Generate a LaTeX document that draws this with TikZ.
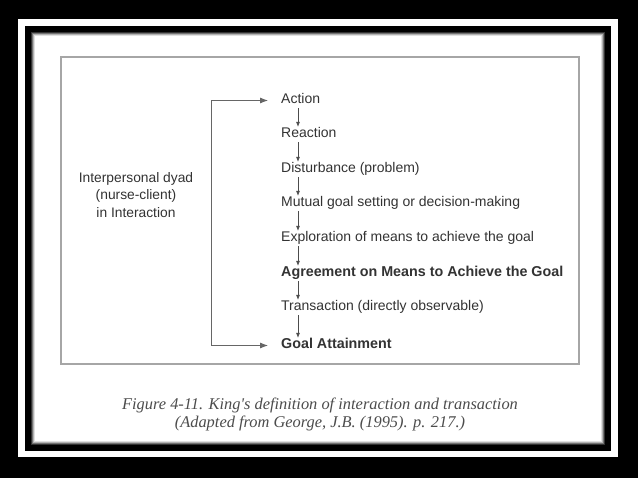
\documentclass[tikz,border=0pt]{standalone}
\usepackage{fontspec}
\setsansfont{Liberation Sans}
\newfontfamily\capfont{Liberation Serif}
\usetikzlibrary{arrows.meta,positioning}

\tikzset{
  step text/.style={anchor=west, inner sep=1pt, text height=10pt, text depth=3pt,
    font=\sffamily\fontsize{14}{16}\selectfont, text=black!80},
  key step/.style={step text, font=\sffamily\bfseries\fontsize{14.3}{16}\selectfont},
  flow/.style={draw=black!70, line width=0.6pt, -{Latex[length=5pt,width=4pt]}},
  loop/.style={draw=black!60, line width=0.8pt, {Latex[length=8pt,width=6pt]}-{Latex[length=8pt,width=6pt]}}
}

\begin{document}
\begin{tikzpicture}[x=1pt,y=-1pt]
    \useasboundingbox (0,0) rectangle (638,478);

    % Draw the black frame
    \fill[black] (0,0) rectangle (638,478);
    \fill[white] (18,19) rectangle (618,457);
    \fill[black] (25,26) rectangle (611,451);
    \foreach \i/\c in {0/black!80, 1/black!55, 2/black!30, 3/black!12} {
        \fill[\c] (31+\i,32+\i) rectangle (605-\i,445-\i);
    }
    \fill[white] (35,36) rectangle (601,441);

    % Draw the inner box
    \draw[black!35, line width=1.2pt] (61,57) rectangle (579,364);

    % Draw the steps
    \node[step text] (action) at (280,100.5) {Action};
    \node[step text] (reaction) at (280,134.5) {Reaction};
    \node[step text] (disturb) at (280,169.5) {Disturbance (problem)};
    \node[step text] (mutual) at (280,203.5) {Mutual goal setting or decision-making};
    \node[step text] (explore) at (280,238.5) {Exploration of means to achieve the goal};
    \node[key step] (agree) at (280,273.5) {Agreement on Means to Achieve the Goal};
    \node[step text] (trans) at (280,307.5) {Transaction (directly observable)};
    \node[key step] (goal) at (280,345.5) {Goal Attainment};

    % Draw the arrows between the steps
    \foreach \a/\b in {action/reaction, reaction/disturb, disturb/mutual, mutual/explore,
                       explore/agree, agree/trans, trans/goal} {
        \draw[flow] ([xshift=18pt]\a.south west) -- ([xshift=18pt]\b.north west);
    }

    % Draw the interaction loop
    \coordinate (left) at (211,100);
    \draw[loop] ([xshift=-12pt]action.west) -- (action.west -| left) |- ([xshift=-12pt]goal.west);

    % Draw the dyad label
    \node[align=center, font=\sffamily\fontsize{13.8}{17.5}\selectfont, text=black!80] (dyad) at (136,195)
        {Interpersonal dyad\\(nurse-client)\\in Interaction};

    % Draw the caption
    \node[align=center, font=\capfont\itshape\fontsize{16.4}{18}\selectfont, text=black!70] (caption) at (320,414)
        {Figure 4-11. King's definition of interaction and transaction\\(Adapted from George, J.B. (1995). p. 217.)};
\end{tikzpicture}
\end{document}
